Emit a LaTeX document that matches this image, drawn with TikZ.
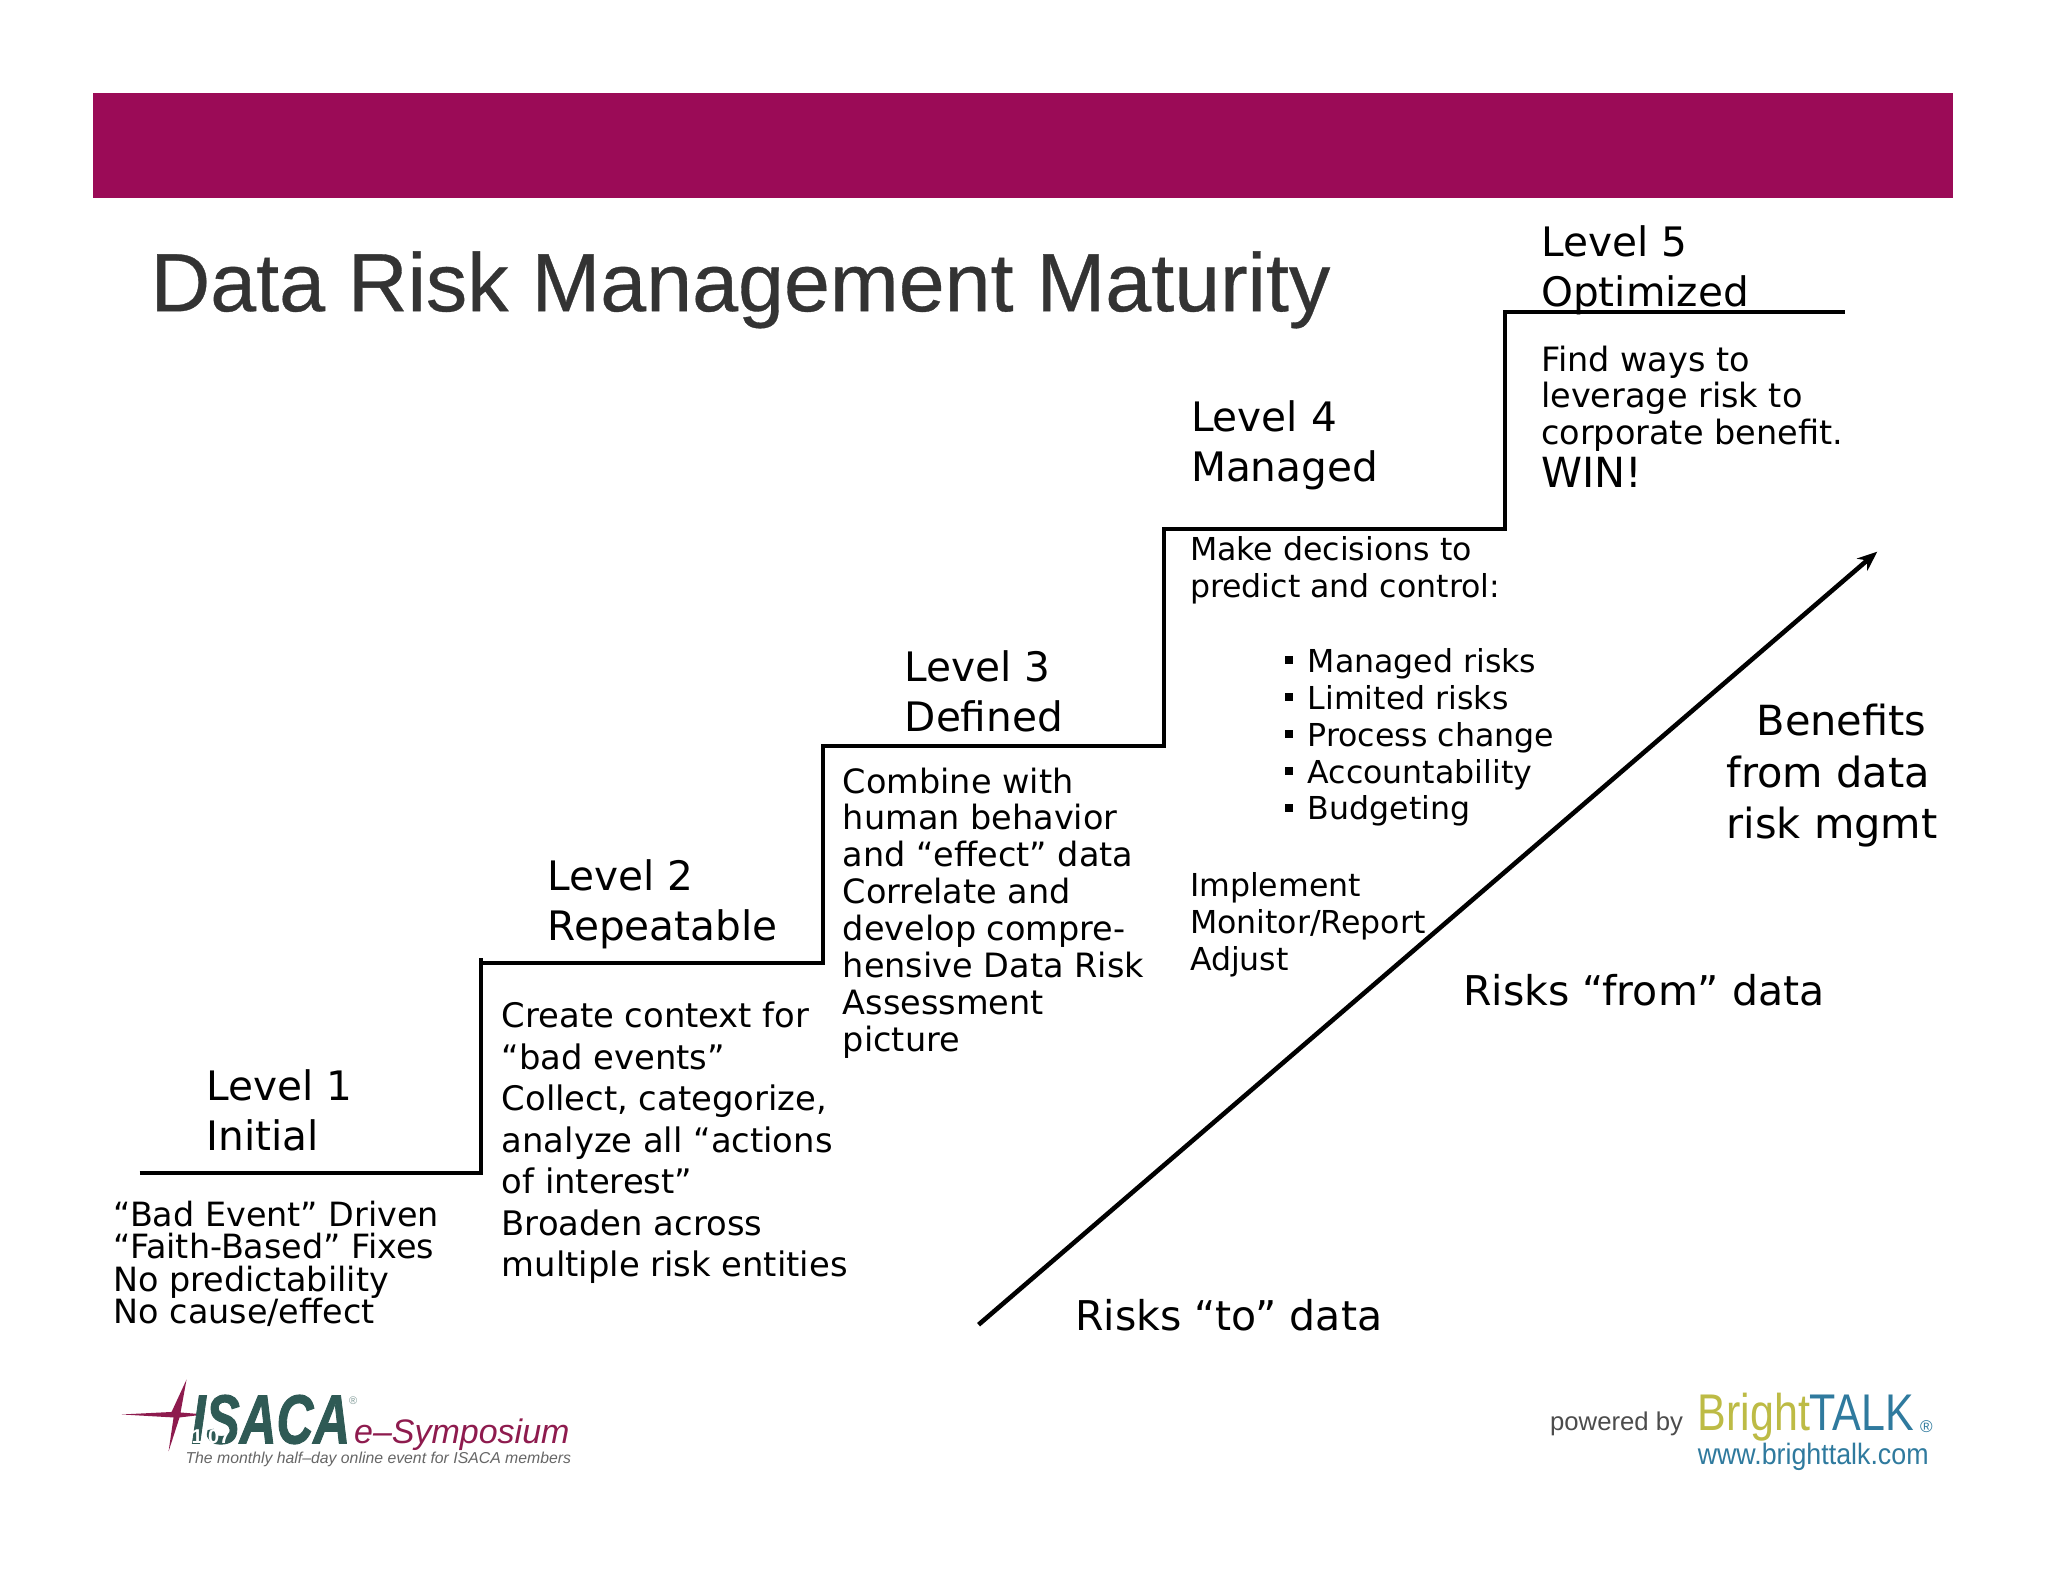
\documentclass[tikz,border=0pt]{standalone}
\usepackage{fontspec}
\setmainfont{DejaVu Sans}
\newfontfamily\arialf[BoldItalicFeatures={FakeBold=1.6}]{Liberation Sans}
\newfontfamily\titlef[FakeBold=0.4]{Liberation Sans}
\usetikzlibrary{arrows.meta}
\newcommand{\fsz}[2]{\fontsize{#1pt}{#2pt}\selectfont}
\newcommand{\sqbul}{\llap{\raisebox{8pt}{\rule{8pt}{8pt}}\hspace{15pt}}}
\definecolor{bannerc}{HTML}{9B0B57}
\definecolor{titlec}{HTML}{333333}
\definecolor{isacag}{HTML}{2F5A55}
\definecolor{isacar}{HTML}{8E1B4E}
\definecolor{btyellow}{HTML}{BDBB45}
\definecolor{btblue}{HTML}{2F7A9E}
\tikzset{
  x=0.9975pt,y=-0.9975pt,
  txt/.style={anchor=base west,inner sep=0pt,outer sep=0pt,align=left,text=black},
  leveltitle/.style={txt,font=\fsz{40.6}{50}},
  bodyA/.style={txt,font=\fsz{33.4}{32.4}},
  bodyB/.style={txt,font=\fsz{33.8}{41.5}},
  bodyC/.style={txt,font=\fsz{33.5}{36.9}},
  bodyD/.style={txt,font=\fsz{31.6}{36.9}},
  bigtxt/.style={txt,font=\fsz{41.5}{51}},
  stairline/.style={line width=3.8pt,line cap=butt,line join=miter},
  arrowline/.style={line width=4.6pt,-{Stealth[length=20pt,width=16pt]}},
  logotxt/.style={anchor=base west,inner sep=0pt,outer sep=0pt},
}
\begin{document}
\begin{tikzpicture}
\useasboundingbox (0,0) rectangle (2053.13,1585.96);
\fill[white] (0,0) rectangle (2053.13,1585.96);
\fill[bannerc] (93,93) rectangle (1958,198);

\node[logotxt,text=titlec,font=\titlef\fsz{82.6}{90}] (title) at (151,312) {Data Risk Management Maturity};

% stairs
\coordinate (s0) at (140,1176);
\coordinate (s1) at (482,1176);
\coordinate (s2) at (482,960);
\coordinate (s2b) at (482,965);
\coordinate (s3) at (825,965);
\coordinate (s4) at (825,748);
\coordinate (s5) at (1167,748);
\coordinate (s6) at (1167,530);
\coordinate (s7) at (1509,530);
\coordinate (s8) at (1509,313);
\coordinate (s9) at (1850,313);
\draw[stairline] (s0) -- (s1) -- (s2);
\draw[stairline] (s2b) -- (s3) -- (s4) -- (s5) -- (s6) -- (s7) -- (s8) -- (s9);

% growth arrow
\coordinate (a0) at (981,1328);
\coordinate (a1) at (1882,553);
\draw[arrowline] (a0) -- (a1);

% level titles
\node[leveltitle] (l1) at (207,1153) {Level 1\\Initial};
\node[leveltitle] (l2) at (549,943) {Level 2\\Repeatable};
\node[leveltitle] (l3) at (907,733) {Level 3\\Defined};
\node[leveltitle] (l4) at (1194,482.5) {Level 4\\Managed};
\node[leveltitle] (l5) at (1545,307) {Level 5\\Optimized};

% bodies
\node[bodyA] (b1) at (114,1327) {“Bad Event” Driven\\“Faith-Based” Fixes\\No predictability\\No cause/effect};
\node[bodyB] (b2) at (503,1280) {Create context for\\“bad events”\\Collect, categorize,\\analyze all “actions\\of interest”\\Broaden across\\multiple risk entities};
\node[bodyC] (b3) at (845,1054) {Combine with\\human behavior\\and “effect” data\\Correlate and\\develop compre-\\hensive Data Risk\\Assessment\\picture};
\node[bodyD] (b4) at (1193,599) {Make decisions to\\predict and control:};
\node[bodyD] (b4l) at (1311,822) {%
\sqbul Managed risks\\
\sqbul Limited risks\\
\sqbul Process change\\
\sqbul Accountability\\
\sqbul Budgeting};
\node[bodyD] (b4b) at (1193,973) {Implement\\Monitor/Report\\Adjust};
\node[bodyC] (b5) at (1545,446) {Find ways to\\leverage risk to\\corporate benefit.};
\node[txt,font=\fsz{41.5}{44}] (win) at (1545,489) {WIN!};

% side labels
\node[bigtxt] (ben1) at (1761,737) {Benefits};
\node[bigtxt] (ben2) at (1731,841) {from data\\risk mgmt};
\node[txt,font=\fsz{41}{44}] (rfrom) at (1467,1008) {Risks “from” data};
\node[txt,font=\fsz{41}{44}] (rto) at (1078,1334) {Risks “to” data};

% ISACA logo
\fill[isacar] (122,1418) -- (172,1415.5) -- (187,1383) -- (181,1416) -- (205,1418) -- (180,1421) -- (169,1455) -- (174,1421) -- cycle;
\node[logotxt,text=isacag,font=\arialf\bfseries\itshape\fsz{51}{55}] (isaca) at (192,1447) {\scalebox{1}[1.36]{ISACA}};
\node[logotxt,text=white,font=\arialf\bfseries\fsz{20}{20}] (isacad) at (192,1447) {1/07};
\node[logotxt,text=isacag!60,font=\arialf\fsz{11}{12}] (isacar2) at (350,1408) {®};
\node[logotxt,text=isacar,font=\arialf\itshape\fsz{34}{36}] (esym) at (355,1447) {e–Symposium};
\node[logotxt,text=black!60,font=\arialf\itshape\fsz{15.8}{18}] (tag) at (186,1467) {The monthly half–day online event for ISACA members};

% BrightTALK logo
\node[logotxt,text=black!70,font=\arialf\fsz{25.7}{28}] (pow) at (1554,1434) {powered by};
\node[logotxt,text=btyellow,font=\arialf\fsz{43}{46}] (bright) at (1702,1434) {\scalebox{1}[1.2]{Bright}};
\node[logotxt,text=btblue,font=\arialf\fsz{43}{46}] (talk) at (1814,1434) {\scalebox{1}[1.2]{TALK}};
\node[logotxt,text=btblue,font=\arialf\fsz{17}{18}] (btr) at (1925,1436) {®};
\node[logotxt,text=btblue,font=\arialf\fsz{26.8}{28}] (www) at (1702,1468) {\scalebox{1}[1.1]{www.brighttalk.com}};
\end{tikzpicture}
\end{document}
